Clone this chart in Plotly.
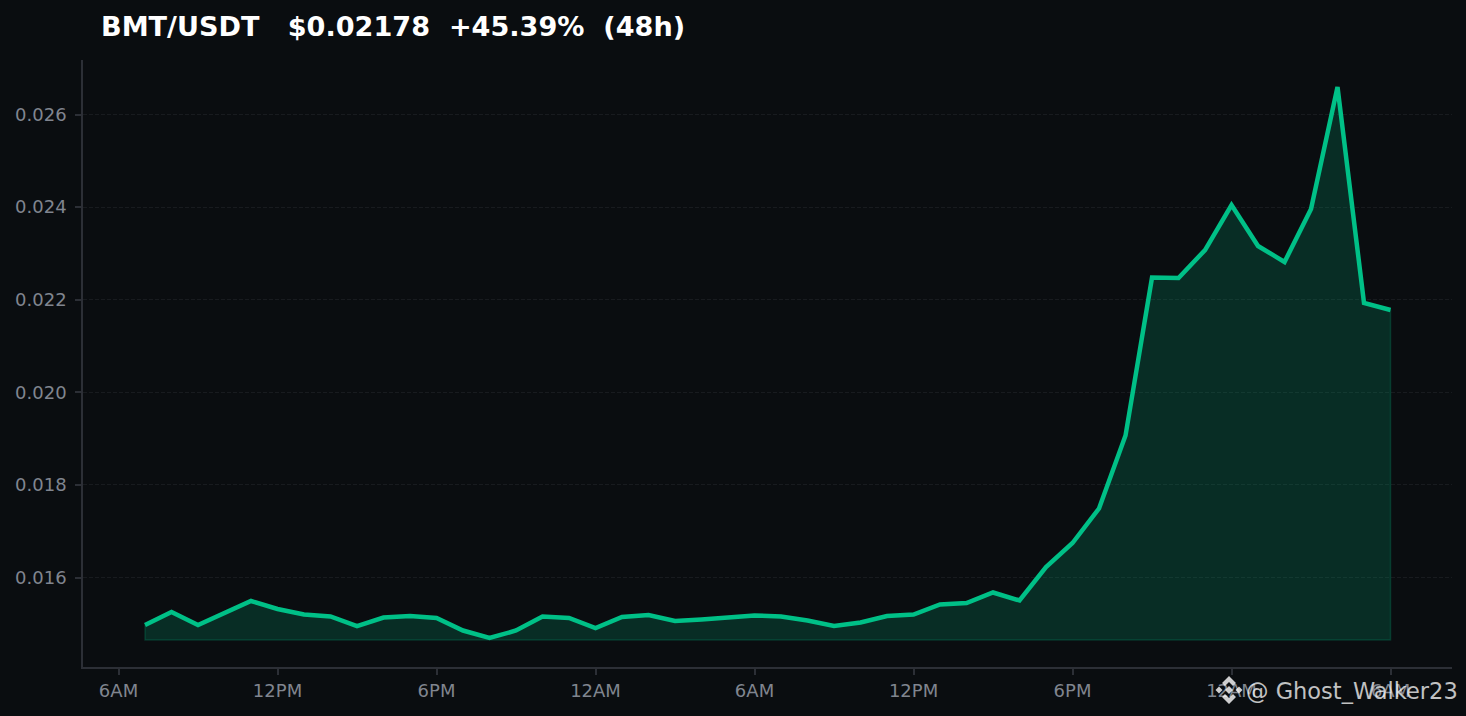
import pandas as pd
import plotly.graph_objects as go

title = "<b>BMT/USDT\u00a0\u00a0\u00a0$0.02178\u00a0\u00a0+45.39%\u00a0\u00a0(48h)</b>"
watermark = "@ Ghost_Walker23"

times = pd.date_range("2025-03-01 07:00", periods=48, freq="h")
prices = [
    0.014974, 0.015255, 0.014974, 0.015244, 0.015492, 0.015320, 0.015201, 0.015158,
    0.014952, 0.015136, 0.015168, 0.015125, 0.014855, 0.014693, 0.014855, 0.015158,
    0.015125, 0.014909, 0.015147, 0.015190, 0.015060, 0.015093, 0.015125, 0.015179,
    0.015158, 0.015071, 0.014952, 0.015028, 0.015168, 0.015201, 0.015417, 0.015449,
    0.015676, 0.015503, 0.016227, 0.016745, 0.017490, 0.019067, 0.022479, 0.022468,
    0.023073, 0.024045, 0.023160, 0.022814, 0.023959, 0.026594, 0.021929, 0.021778,
]
fill_base = 0.01465

tick_times = pd.date_range("2025-03-01 06:00", periods=9, freq="6h")
tick_labels = ["6AM", "12PM", "6PM", "12AM", "6AM", "12PM", "6PM", "12AM", "6AM"]
y_ticks = [0.016, 0.018, 0.020, 0.022, 0.024, 0.026]

BG = "#0a0d10"
GREEN = "#00c087"
AXIS = "#2c2f36"
TICK_TEXT = "#80858f"
FONT = "DejaVu Sans"

fig = go.Figure()

# filled area with its thin edge, closed along the baseline
fig.add_trace(go.Scatter(
    x=list(times) + [times[-1], times[0], times[0]],
    y=prices + [fill_base, fill_base, prices[0]],
    mode="lines",
    fill="toself",
    fillcolor="rgba(0,192,135,0.18)",
    line=dict(color="rgba(0,192,135,0.2)", width=1.5),
    hoverinfo="skip",
))
fig.add_trace(go.Scatter(
    x=times,
    y=prices,
    mode="lines",
    line=dict(color=GREEN, width=4.5),
))

fig.update_layout(
    width=1466,
    height=716,
    margin=dict(l=83, r=14, t=60, b=49),
    paper_bgcolor=BG,
    plot_bgcolor=BG,
    showlegend=False,
    font=dict(family=FONT, size=18, color=TICK_TEXT),
)
fig.update_xaxes(
    range=["2025-03-01 04:39:36", "2025-03-03 08:19:12"],
    tickvals=list(tick_times),
    ticktext=tick_labels,
    ticks="outside",
    ticklen=6,
    tickwidth=1.5,
    tickcolor=AXIS,
    ticklabelstandoff=1,
    showgrid=False,
    zeroline=False,
    showline=True,
    linecolor=AXIS,
    linewidth=1.5,
)
fig.update_yaxes(
    range=[0.014067, 0.027177],
    tickvals=y_ticks,
    tickformat=".3f",
    ticks="outside",
    ticklen=6,
    tickwidth=1.5,
    tickcolor=AXIS,
    ticklabelstandoff=5,
    showgrid=True,
    gridcolor="#181b1f",
    griddash="4px,2px",
    gridwidth=1,
    zeroline=False,
    showline=True,
    linecolor=AXIS,
    linewidth=1.5,
)

fig.add_annotation(
    text=title, xref="paper", yref="paper",
    x=(99 - 83) / 1369, y=1 + (60 - 26) / 607,
    xanchor="left", yanchor="middle", showarrow=False,
    font=dict(family=FONT, size=27.1, color="#ffffff"),
)
fig.add_annotation(
    text=watermark, xref="paper", yref="paper",
    x=(1460 - 83) / 1369, y=-(691 - 667) / 607,
    xanchor="right", yanchor="middle", showarrow=False,
    font=dict(family=FONT, size=22.5, color="rgba(255,255,255,0.75)"),
)

# exchange logo next to the watermark, sized in pixels
logo_parts = [
    "M 0,-14 L 7,-7 L 4,-4 L 0,-8 L -4,-4 L -7,-7 Z",
    "M 0,14 L 7,7 L 4,4 L 0,8 L -4,4 L -7,7 Z",
    "M -10,-3.5 L -6.5,0 L -10,3.5 L -13.5,0 Z",
    "M 10,-3.5 L 13.5,0 L 10,3.5 L 6.5,0 Z",
    "M 0,-4 L 4,0 L 0,4 L -4,0 Z",
]
for part in logo_parts:
    fig.add_shape(
        type="path", path=part,
        xref="paper", yref="paper",
        xsizemode="pixel", ysizemode="pixel",
        xanchor=(1229 - 83) / 1369, yanchor=-(690 - 667) / 607,
        fillcolor="rgba(255,255,255,0.8)", line_width=0,
    )

# drop the page margin so the figure fills the window
fig.write_html(
    "out.html",
    config={"displayModeBar": False},
    post_script="document.body.style.margin='0';document.body.style.background='#0a0d10';document.body.style.overflow='hidden';",
)
